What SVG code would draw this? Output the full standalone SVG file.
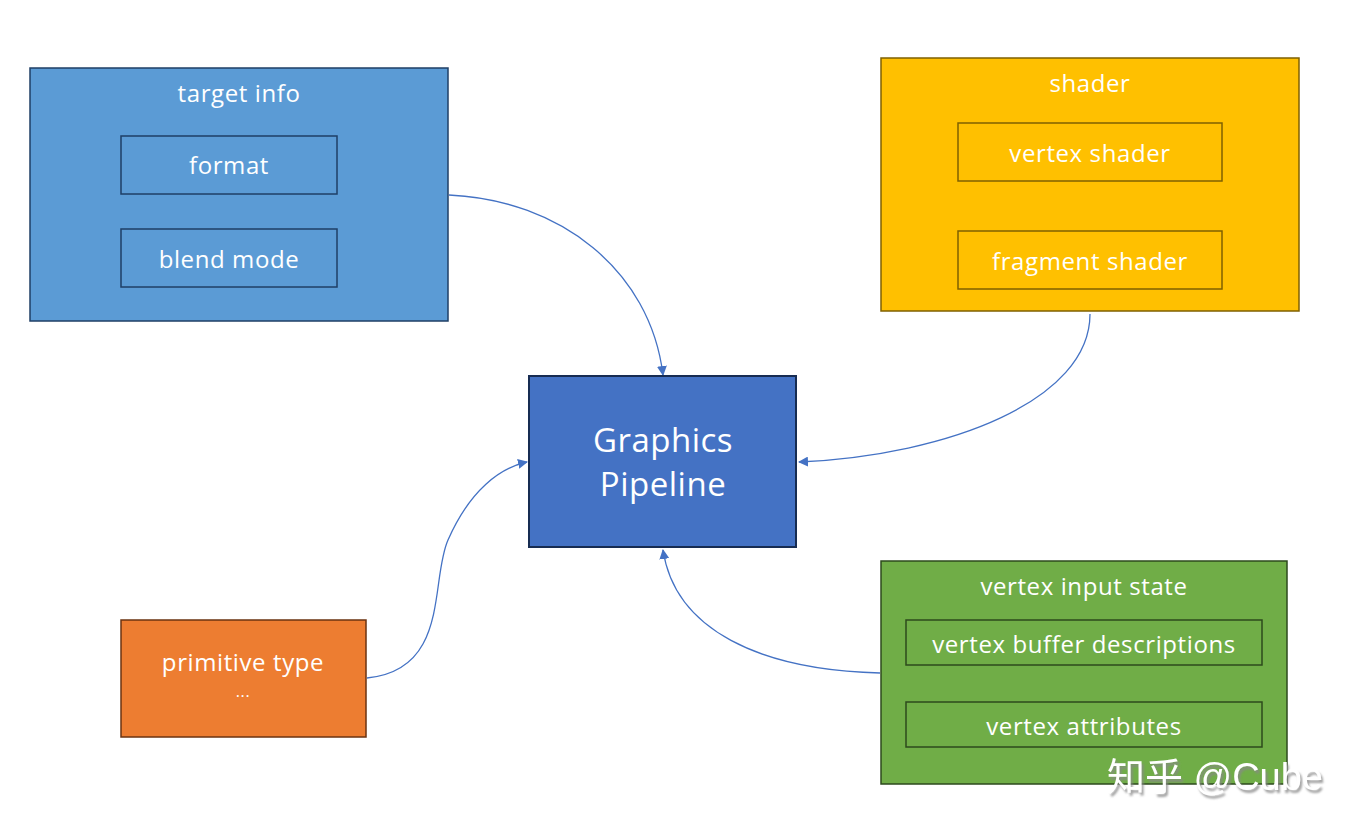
<svg xmlns="http://www.w3.org/2000/svg" width="1364" height="833" viewBox="0 0 1364 833">
<style>
text{font-family:"Open Sans","Noto Sans","Liberation Sans",sans-serif;fill:#fff;text-anchor:middle}
.t{font-size:24px;letter-spacing:0.6px}
.big{font-size:33px;letter-spacing:0.5px}
.in{fill:none;stroke-width:1.5}
.c{fill:none;stroke:#4472c4;stroke-width:1.3;marker-end:url(#a)}
</style>
<defs><marker id="a" markerWidth="10" markerHeight="10" refX="9" refY="5" orient="auto" markerUnits="userSpaceOnUse"><path d="M0,0L10,5L0,10z" fill="#4472c4"/></marker>
<filter id="sh" x="-10%" y="-20%" width="120%" height="150%"><feDropShadow dx="2" dy="3" stdDeviation="1" flood-color="#888" flood-opacity="0.8"/></filter></defs>
<rect width="1364" height="833" fill="#fff"/>
<g id="connectors">
<path class="c" d="M449,195C560,200 650,270 663,375"/>
<path class="c" d="M1090,314C1090,400 950,455 799,462"/>
<path class="c" d="M367,678C450,670 430,580 448,540C470,490 500,468 527,462"/>
<path class="c" d="M880,673C760,670 675,630 663,550"/>
</g>
<g id="target-info">
<rect x="30" y="68" width="418" height="253" fill="#5b9bd5" stroke="#1f3f66" stroke-width="1.5"/>
<text class="t" x="239" y="102">target info</text>
<rect class="in" x="121" y="136" width="216" height="58" stroke="#1f3f66"/>
<text class="t" x="229" y="174">format</text>
<rect class="in" x="121" y="229" width="216" height="58" stroke="#1f3f66"/>
<text class="t" x="229" y="268">blend mode</text>
</g>
<g id="shader">
<rect x="881" y="58" width="418" height="253" fill="#ffc000" stroke="#7f6000" stroke-width="1.5"/>
<text class="t" x="1090" y="92">shader</text>
<rect class="in" x="958" y="123" width="264" height="58" stroke="#7f6000"/>
<text class="t" x="1090" y="162">vertex shader</text>
<rect class="in" x="958" y="231" width="264" height="58" stroke="#7f6000"/>
<text class="t" x="1090" y="270">fragment shader</text>
</g>
<g id="pipeline">
<rect x="529" y="376" width="267" height="171" fill="#4472c4" stroke="#172c52" stroke-width="2"/>
<text class="big" x="663" y="452">Graphics</text>
<text class="big" x="663" y="496">Pipeline</text>
</g>
<g id="primitive">
<rect x="121" y="620" width="245" height="117" fill="#ed7d31" stroke="#6b3310" stroke-width="1.5"/>
<text class="t" x="243" y="671">primitive type</text>
<text class="t" x="243" y="697" style="font-size:16px">...</text>
</g>
<g id="vertex-input">
<rect x="881" y="561" width="406" height="223" fill="#70ad47" stroke="#2d4a1c" stroke-width="1.5"/>
<text class="t" x="1084" y="595">vertex input state</text>
<rect class="in" x="906" y="620" width="356" height="45" stroke="#2d4a1c"/>
<text class="t" x="1084" y="653">vertex buffer descriptions</text>
<rect class="in" x="906" y="702" width="356" height="45" stroke="#2d4a1c"/>
<text class="t" x="1084" y="735">vertex attributes</text>
</g>
<g id="watermark">
<text x="1215" y="790" filter="url(#sh)" style="font-size:38px;font-family:'Liberation Sans','Noto Sans CJK SC',sans-serif;fill:#fff">知乎 @Cube</text>
</g>
</svg>
